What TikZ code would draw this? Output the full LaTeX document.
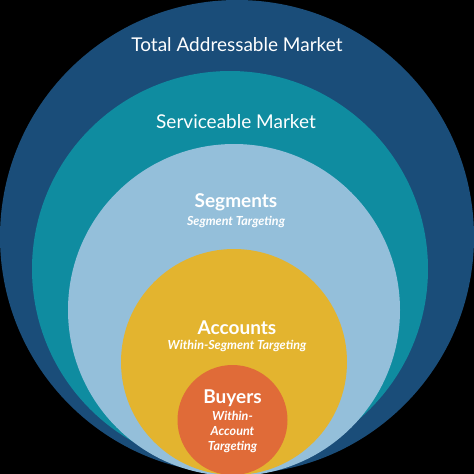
\documentclass[tikz,border=0pt]{standalone}
\usepackage{fontspec}
\setmainfont{Lato}
\usepackage{tikz}
\usetikzlibrary{positioning}

\definecolor{tamblue}{HTML}{1A4D79}
\definecolor{smteal}{HTML}{0F8CA0}
\definecolor{seglight}{HTML}{94BFDA}
\definecolor{accgold}{HTML}{E3B42F}
\definecolor{buyorange}{HTML}{E06B38}

\begin{document}
\begin{tikzpicture}
			[x=1pt, y=-1pt,
			 ring/.style={draw=none},
			 title/.style={text=white, font=\fontsize{19}{22}\selectfont, inner sep=0pt},
			 head/.style={text=white, font=\fontsize{19}{22}\selectfont\bfseries, inner sep=0pt},
			 sub/.style={text=white, font=\fontsize{12.5}{15}\selectfont\bfseries\itshape, inner sep=0pt, align=center},]
          	\fill[black] (0,0) rectangle (474,474);
          	\useasboundingbox (0,0) rectangle (474,474);

          	\fill[ring, tamblue] (237,237) circle (237pt);
          	\fill[ring, smteal] (230,269) circle (198pt);
          	\fill[ring, seglight] (234,310) circle (166pt);
          	\fill[ring, accgold] (234,362) circle (113pt);
          	\fill[ring, buyorange] (232.5,420) circle (55pt);

          	\node[title] (TAM) at (237,45) {Total Addressable Market};
          	\node[title] (SM) at (236,122) {Serviceable Market};
          	\node[head] (SEG) at (236,202) {Segments};
          	\node[sub, below=5pt of SEG] (SEGT) {Segment Targeting};
          	\node[head] (ACC) at (237,328) {Accounts};
          	\node[sub, below=5pt of ACC] (ACCT) {Within-Segment Targeting};
          	\node[head] (BUY) at (232.5,398) {Buyers};
          	\node[sub, below=4pt of BUY] (BUYT) {Within-\\Account\\Targeting};
			\end{tikzpicture}
\end{document}
